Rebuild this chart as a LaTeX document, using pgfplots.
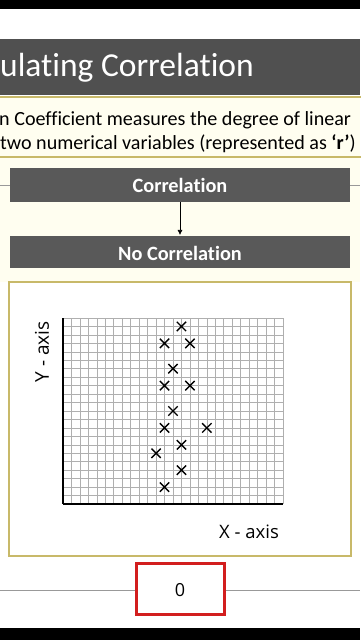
\documentclass[border=0pt]{standalone}
\usepackage{pgfplots}
\pgfplotsset{compat=1.18}
\usetikzlibrary{arrows.meta}
\usepackage{fontspec}
\setmainfont{Carlito}[Ligatures=NoCommon]
\newfontfamily\segoe{Open Sans}
\definecolor{banner}{RGB}{80,80,80}
\definecolor{boxgray}{RGB}{89,89,89}
\definecolor{gold}{RGB}{200,185,105}
\definecolor{paleyel}{RGB}{255,254,240}
\definecolor{gridgray}{RGB}{175,175,175}
\definecolor{redbox}{RGB}{210,30,30}
\begin{document}
\begin{tikzpicture}[x=1pt,y=1pt]
\useasboundingbox (0,0) rectangle (360,640);
\fill[white] (0,0) rectangle (360,640);
% top and bottom black bars
\fill[black] (0,631) rectangle (360,640);
\fill[black] (0,0) rectangle (360,12);
% pale band
\fill[paleyel] (0,543) rectangle (360,358);
% title banner
\fill[banner] (0,545) rectangle (360,601);
\node[anchor=base west, inner sep=0pt, text=white, font=\fontsize{33.5}{40}\selectfont] at (0,563) {ulating Correlation};
% subtitle box
\draw[gold, line width=1.2pt] (-2,543) -- (362,543);
\draw[gold, line width=1.2pt] (-2,483) -- (362,483);
\node[anchor=base west, inner sep=0pt, font=\fontsize{20.1}{24}\selectfont] at (-1,514) {n Coefficient measures the degree of linear};
\node[anchor=base west, inner sep=0pt, font=\fontsize{20.1}{24}\selectfont] at (0,490) {two numerical variables (represented as \textbf{‘r’})};
% correlation boxes
\draw[gray!80, line width=0.8pt] (0,455) -- (360,455);
\fill[boxgray] (10,438) rectangle (350,472);
\node[text=white, font=\fontsize{20.3}{24}\selectfont\bfseries] at (180,455) {Correlation};
\draw[-{Latex[length=5pt,width=5pt]}, line width=0.6pt] (180,438) -- (180,405);
\fill[boxgray] (10,372) rectangle (350,404);
\node[text=white, font=\fontsize{20.3}{24}\selectfont\bfseries] at (180,387) {No Correlation};
% frame
\draw[gold, line width=1.2pt, fill=white] (9,84) rectangle (351,358);
% plot
\begin{axis}[
  at={(63pt,136pt)}, anchor=south west,
  width=220pt, height=186pt, scale only axis,
  xmin=0, xmax=26, ymin=0, ymax=22,
  xtick={0,...,26}, ytick={0,...,22},
  xticklabels={}, yticklabels={},
  major tick length=0pt,
  grid=major,
  grid style={gridgray, line width=0.6pt},
  axis x line*=bottom, axis y line*=left,
  axis line style={-, black, line width=1.6pt},
  clip=false,
]
\addplot[only marks, mark=x, mark size=6.6pt, mark options={black, line width=1.4pt}] coordinates {
(14,21) (12,19) (15,19) (13,16) (12,14) (15,14) (13,11)
(12,9) (17,9) (14,7) (11,6) (14,4) (12,2)
};
\end{axis}
\node[rotate=90, font=\segoe\fontsize{19}{22}\selectfont] at (42,288) {Y - axis};
\node[font=\segoe\fontsize{18.5}{22}\selectfont] at (249,108) {X - axis};
% bottom value box
\draw[gray!80, line width=0.8pt] (0,50) -- (360,50);
\draw[redbox, line width=3pt, fill=white] (136,25) rectangle (224,76);
\node[font=\segoe\fontsize{18}{22}\selectfont] at (180,50) {0};
\end{tikzpicture}
\end{document}
